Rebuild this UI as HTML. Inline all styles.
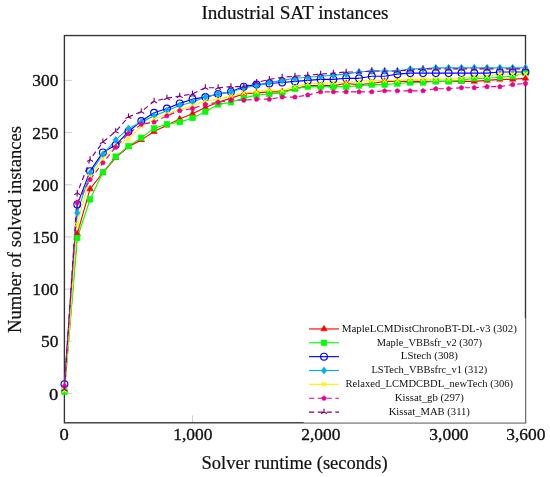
<!DOCTYPE html>
<html><head><meta charset="utf-8"><title>Industrial SAT instances</title>
<style>
html,body{margin:0;padding:0;background:#fff}
body{width:550px;height:477px;overflow:hidden}
svg{display:block}
text{font-family:"Liberation Serif",serif;fill:#111}
.t{font-size:17.9px;stroke:#111;stroke-width:0.2px}
.l{font-size:9.4px}
.k{font-size:17.5px;stroke:#111;stroke-width:0.35px}
</style></head><body>
<svg width="550" height="477" viewBox="0 0 550 477">
<rect width="550" height="477" fill="#fff"/>
<path d="M64.45 422.8V415.3M192.52 422.8V415.3M320.59 422.8V415.3M448.66 422.8V415.3M525.5 422.8V415.3M64.4 393.5H71.9M64.4 341.31H71.9M64.4 289.13H71.9M64.4 236.94H71.9M64.4 184.76H71.9M64.4 132.57H71.9M64.4 80.39H71.9" stroke="#bbb" stroke-width="0.7" fill="none"/>
<rect x="64.4" y="35.55" width="461.1" height="387.25" fill="none" stroke="#333" stroke-width="1.35"/>
<g fill="none" stroke-width="1.15" stroke-linejoin="round">
<polyline points="64.45,390.37 77.26,233.81 90.06,188.93 102.87,172.76 115.68,157.62 128.48,146.77 141.29,139.88 154.1,131.53 166.91,125.27 179.71,119.01 192.52,113.79 205.33,107.53 218.13,102.31 230.94,98.13 243.75,93.96 256.55,92.91 269.36,91.87 282.17,91.87 294.98,88.74 307.78,85.61 320.59,85.61 333.4,85.61 346.2,83.52 359.01,84.56 371.82,83.52 384.62,81.43 397.43,81.43 410.24,81.43 423.04,81.43 435.85,81.43 448.66,81.43 461.47,81.43 474.27,81.43 487.08,80.39 499.89,79.35 512.69,79.35 525.5,78.3" stroke="#ff0000"/>
<polyline points="64.45,391.93 77.26,237.99 90.06,199.37 102.87,172.24 115.68,156.58 128.48,146.14 141.29,137.79 154.1,128.4 166.91,124.23 179.71,122.14 192.52,117.96 205.33,111.7 218.13,104.4 230.94,102.31 243.75,98.13 256.55,95 269.36,93.96 282.17,92.91 294.98,88.74 307.78,86.65 320.59,86.65 333.4,86.65 346.2,86.65 359.01,85.61 371.82,84.56 384.62,84.56 397.43,83.52 410.24,82.48 423.04,82.48 435.85,81.43 448.66,81.43 461.47,80.39 474.27,78.3 487.08,78.3 499.89,77.26 512.69,76.22 525.5,73.08" stroke="#00ff00"/>
<polyline points="64.45,384.11 77.26,204.59 90.06,171.19 102.87,152.41 115.68,145.1 128.48,131.53 141.29,121.09 154.1,112.74 166.91,108.57 179.71,103.35 192.52,99.18 205.33,97.09 218.13,93.96 230.94,91.87 243.75,86.65 256.55,84.56 269.36,83.52 282.17,82.48 294.98,81.43 307.78,80.39 320.59,79.35 333.4,79.35 346.2,78.3 359.01,78.3 371.82,76.22 384.62,76.22 397.43,74.13 410.24,73.08 423.04,73.08 435.85,73.08 448.66,73.08 461.47,73.08 474.27,73.08 487.08,73.08 499.89,72.04 512.69,72.04 525.5,72.04" stroke="#0000ff"/>
<polyline points="64.45,388.28 77.26,212.94 90.06,173.28 102.87,154.49 115.68,139.88 128.48,128.4 141.29,122.14 154.1,115.88 166.91,110.66 179.71,105.44 192.52,102.31 205.33,97.09 218.13,93.96 230.94,91.87 243.75,87.7 256.55,85.61 269.36,82.48 282.17,80.39 294.98,78.3 307.78,77.26 320.59,76.22 333.4,75.17 346.2,74.13 359.01,72.04 371.82,71 384.62,71 397.43,71 410.24,68.91 423.04,68.91 435.85,67.87 448.66,67.87 461.47,67.87 474.27,67.87 487.08,67.87 499.89,67.87 512.69,67.87 525.5,67.87" stroke="#00aeef"/>
<polyline points="64.45,390.37 77.26,224.42 90.06,176.41 102.87,158.67 115.68,146.14 128.48,138.84 141.29,126.31 154.1,119.01 166.91,113.79 179.71,109.61 192.52,105.44 205.33,101.26 218.13,99.18 230.94,96.05 243.75,92.91 256.55,91.87 269.36,89.78 282.17,90.83 294.98,86.65 307.78,83.52 320.59,83.52 333.4,82.48 346.2,82.48 359.01,81.43 371.82,80.39 384.62,80.39 397.43,80.39 410.24,79.35 423.04,79.35 435.85,79.35 448.66,79.35 461.47,78.3 474.27,76.22 487.08,76.22 499.89,74.13 512.69,74.13 525.5,74.13" stroke="#fff200"/>
<polyline points="64.45,386.19 77.26,202.5 90.06,179.54 102.87,162.84 115.68,147.19 128.48,133.62 141.29,124.23 154.1,122.14 166.91,115.88 179.71,110.66 192.52,108.57 205.33,104.4 218.13,102.31 230.94,100.22 243.75,100.22 256.55,99.18 269.36,99.18 282.17,97.09 294.98,97.09 307.78,95 320.59,91.87 333.4,91.87 346.2,91.87 359.01,91.87 371.82,91.87 384.62,90.83 397.43,90.83 410.24,90.83 423.04,90.83 435.85,88.74 448.66,88.74 461.47,87.7 474.27,87.7 487.08,86.65 499.89,86.65 512.69,84.56 525.5,83.52" stroke="#ec008c" stroke-dasharray="5.27 3.51"/>
<polyline points="64.45,389.33 77.26,193.11 90.06,159.71 102.87,141.97 115.68,131.53 128.48,116.92 141.29,111.7 154.1,101.26 166.91,98.13 179.71,96.05 192.52,93.96 205.33,87.7 218.13,87.7 230.94,86.65 243.75,86.65 256.55,82.48 269.36,79.35 282.17,77.26 294.98,76.22 307.78,75.17 320.59,74.13 333.4,73.08 346.2,72.04 359.01,72.04 371.82,71 384.62,71 397.43,71 410.24,69.95 423.04,68.91 435.85,68.91 448.66,68.91 461.47,68.91 474.27,68.91 487.08,68.91 499.89,68.91 512.69,68.91 525.5,68.91" stroke="#800080" stroke-dasharray="5.27 3.51"/>
</g>
<g><polygon points="64.45,386.67 67.65,392.22 61.25,392.22" fill="#ff0000" stroke="#ff0000" stroke-width="0.6"/><polygon points="77.26,230.11 80.46,235.66 74.05,235.66" fill="#ff0000" stroke="#ff0000" stroke-width="0.6"/><polygon points="90.06,185.23 93.27,190.78 86.86,190.78" fill="#ff0000" stroke="#ff0000" stroke-width="0.6"/><polygon points="102.87,169.06 106.08,174.61 99.67,174.61" fill="#ff0000" stroke="#ff0000" stroke-width="0.6"/><polygon points="115.68,153.92 118.88,159.47 112.47,159.47" fill="#ff0000" stroke="#ff0000" stroke-width="0.6"/><polygon points="128.48,143.07 131.69,148.62 125.28,148.62" fill="#ff0000" stroke="#ff0000" stroke-width="0.6"/><polygon points="141.29,136.18 144.5,141.73 138.09,141.73" fill="#ff0000" stroke="#ff0000" stroke-width="0.6"/><polygon points="154.1,127.83 157.3,133.38 150.89,133.38" fill="#ff0000" stroke="#ff0000" stroke-width="0.6"/><polygon points="166.91,121.57 170.11,127.12 163.7,127.12" fill="#ff0000" stroke="#ff0000" stroke-width="0.6"/><polygon points="179.71,115.31 182.92,120.86 176.51,120.86" fill="#ff0000" stroke="#ff0000" stroke-width="0.6"/><polygon points="192.52,110.09 195.72,115.64 189.32,115.64" fill="#ff0000" stroke="#ff0000" stroke-width="0.6"/><polygon points="205.33,103.83 208.53,109.38 202.12,109.38" fill="#ff0000" stroke="#ff0000" stroke-width="0.6"/><polygon points="218.13,98.61 221.34,104.16 214.93,104.16" fill="#ff0000" stroke="#ff0000" stroke-width="0.6"/><polygon points="230.94,94.43 234.14,99.98 227.74,99.98" fill="#ff0000" stroke="#ff0000" stroke-width="0.6"/><polygon points="243.75,90.26 246.95,95.81 240.54,95.81" fill="#ff0000" stroke="#ff0000" stroke-width="0.6"/><polygon points="256.55,89.21 259.76,94.76 253.35,94.76" fill="#ff0000" stroke="#ff0000" stroke-width="0.6"/><polygon points="269.36,88.17 272.57,93.72 266.16,93.72" fill="#ff0000" stroke="#ff0000" stroke-width="0.6"/><polygon points="282.17,88.17 285.37,93.72 278.96,93.72" fill="#ff0000" stroke="#ff0000" stroke-width="0.6"/><polygon points="294.98,85.04 298.18,90.59 291.77,90.59" fill="#ff0000" stroke="#ff0000" stroke-width="0.6"/><polygon points="307.78,81.91 310.99,87.46 304.58,87.46" fill="#ff0000" stroke="#ff0000" stroke-width="0.6"/><polygon points="320.59,81.91 323.79,87.46 317.38,87.46" fill="#ff0000" stroke="#ff0000" stroke-width="0.6"/><polygon points="333.4,81.91 336.6,87.46 330.19,87.46" fill="#ff0000" stroke="#ff0000" stroke-width="0.6"/><polygon points="346.2,79.82 349.41,85.37 343,85.37" fill="#ff0000" stroke="#ff0000" stroke-width="0.6"/><polygon points="359.01,80.86 362.21,86.41 355.81,86.41" fill="#ff0000" stroke="#ff0000" stroke-width="0.6"/><polygon points="371.82,79.82 375.02,85.37 368.61,85.37" fill="#ff0000" stroke="#ff0000" stroke-width="0.6"/><polygon points="384.62,77.73 387.83,83.28 381.42,83.28" fill="#ff0000" stroke="#ff0000" stroke-width="0.6"/><polygon points="397.43,77.73 400.63,83.28 394.23,83.28" fill="#ff0000" stroke="#ff0000" stroke-width="0.6"/><polygon points="410.24,77.73 413.44,83.28 407.03,83.28" fill="#ff0000" stroke="#ff0000" stroke-width="0.6"/><polygon points="423.04,77.73 426.25,83.28 419.84,83.28" fill="#ff0000" stroke="#ff0000" stroke-width="0.6"/><polygon points="435.85,77.73 439.06,83.28 432.65,83.28" fill="#ff0000" stroke="#ff0000" stroke-width="0.6"/><polygon points="448.66,77.73 451.86,83.28 445.45,83.28" fill="#ff0000" stroke="#ff0000" stroke-width="0.6"/><polygon points="461.47,77.73 464.67,83.28 458.26,83.28" fill="#ff0000" stroke="#ff0000" stroke-width="0.6"/><polygon points="474.27,77.73 477.48,83.28 471.07,83.28" fill="#ff0000" stroke="#ff0000" stroke-width="0.6"/><polygon points="487.08,76.69 490.28,82.24 483.87,82.24" fill="#ff0000" stroke="#ff0000" stroke-width="0.6"/><polygon points="499.89,75.65 503.09,81.2 496.68,81.2" fill="#ff0000" stroke="#ff0000" stroke-width="0.6"/><polygon points="512.69,75.65 515.9,81.2 509.49,81.2" fill="#ff0000" stroke="#ff0000" stroke-width="0.6"/><polygon points="525.5,74.6 528.7,80.15 522.3,80.15" fill="#ff0000" stroke="#ff0000" stroke-width="0.6"/></g>
<g><rect x="61.7" y="389.18" width="5.5" height="5.5" fill="#00ff00" stroke="#00ff00" stroke-width="0.6"/><rect x="74.51" y="235.24" width="5.5" height="5.5" fill="#00ff00" stroke="#00ff00" stroke-width="0.6"/><rect x="87.31" y="196.62" width="5.5" height="5.5" fill="#00ff00" stroke="#00ff00" stroke-width="0.6"/><rect x="100.12" y="169.49" width="5.5" height="5.5" fill="#00ff00" stroke="#00ff00" stroke-width="0.6"/><rect x="112.93" y="153.83" width="5.5" height="5.5" fill="#00ff00" stroke="#00ff00" stroke-width="0.6"/><rect x="125.73" y="143.39" width="5.5" height="5.5" fill="#00ff00" stroke="#00ff00" stroke-width="0.6"/><rect x="138.54" y="135.04" width="5.5" height="5.5" fill="#00ff00" stroke="#00ff00" stroke-width="0.6"/><rect x="151.35" y="125.65" width="5.5" height="5.5" fill="#00ff00" stroke="#00ff00" stroke-width="0.6"/><rect x="164.16" y="121.48" width="5.5" height="5.5" fill="#00ff00" stroke="#00ff00" stroke-width="0.6"/><rect x="176.96" y="119.39" width="5.5" height="5.5" fill="#00ff00" stroke="#00ff00" stroke-width="0.6"/><rect x="189.77" y="115.21" width="5.5" height="5.5" fill="#00ff00" stroke="#00ff00" stroke-width="0.6"/><rect x="202.58" y="108.95" width="5.5" height="5.5" fill="#00ff00" stroke="#00ff00" stroke-width="0.6"/><rect x="215.38" y="101.65" width="5.5" height="5.5" fill="#00ff00" stroke="#00ff00" stroke-width="0.6"/><rect x="228.19" y="99.56" width="5.5" height="5.5" fill="#00ff00" stroke="#00ff00" stroke-width="0.6"/><rect x="241" y="95.38" width="5.5" height="5.5" fill="#00ff00" stroke="#00ff00" stroke-width="0.6"/><rect x="253.8" y="92.25" width="5.5" height="5.5" fill="#00ff00" stroke="#00ff00" stroke-width="0.6"/><rect x="266.61" y="91.21" width="5.5" height="5.5" fill="#00ff00" stroke="#00ff00" stroke-width="0.6"/><rect x="279.42" y="90.16" width="5.5" height="5.5" fill="#00ff00" stroke="#00ff00" stroke-width="0.6"/><rect x="292.23" y="85.99" width="5.5" height="5.5" fill="#00ff00" stroke="#00ff00" stroke-width="0.6"/><rect x="305.03" y="83.9" width="5.5" height="5.5" fill="#00ff00" stroke="#00ff00" stroke-width="0.6"/><rect x="317.84" y="83.9" width="5.5" height="5.5" fill="#00ff00" stroke="#00ff00" stroke-width="0.6"/><rect x="330.65" y="83.9" width="5.5" height="5.5" fill="#00ff00" stroke="#00ff00" stroke-width="0.6"/><rect x="343.45" y="83.9" width="5.5" height="5.5" fill="#00ff00" stroke="#00ff00" stroke-width="0.6"/><rect x="356.26" y="82.86" width="5.5" height="5.5" fill="#00ff00" stroke="#00ff00" stroke-width="0.6"/><rect x="369.07" y="81.81" width="5.5" height="5.5" fill="#00ff00" stroke="#00ff00" stroke-width="0.6"/><rect x="381.87" y="81.81" width="5.5" height="5.5" fill="#00ff00" stroke="#00ff00" stroke-width="0.6"/><rect x="394.68" y="80.77" width="5.5" height="5.5" fill="#00ff00" stroke="#00ff00" stroke-width="0.6"/><rect x="407.49" y="79.73" width="5.5" height="5.5" fill="#00ff00" stroke="#00ff00" stroke-width="0.6"/><rect x="420.29" y="79.73" width="5.5" height="5.5" fill="#00ff00" stroke="#00ff00" stroke-width="0.6"/><rect x="433.1" y="78.68" width="5.5" height="5.5" fill="#00ff00" stroke="#00ff00" stroke-width="0.6"/><rect x="445.91" y="78.68" width="5.5" height="5.5" fill="#00ff00" stroke="#00ff00" stroke-width="0.6"/><rect x="458.72" y="77.64" width="5.5" height="5.5" fill="#00ff00" stroke="#00ff00" stroke-width="0.6"/><rect x="471.52" y="75.55" width="5.5" height="5.5" fill="#00ff00" stroke="#00ff00" stroke-width="0.6"/><rect x="484.33" y="75.55" width="5.5" height="5.5" fill="#00ff00" stroke="#00ff00" stroke-width="0.6"/><rect x="497.14" y="74.51" width="5.5" height="5.5" fill="#00ff00" stroke="#00ff00" stroke-width="0.6"/><rect x="509.94" y="73.47" width="5.5" height="5.5" fill="#00ff00" stroke="#00ff00" stroke-width="0.6"/><rect x="522.75" y="70.33" width="5.5" height="5.5" fill="#00ff00" stroke="#00ff00" stroke-width="0.6"/></g>
<g><circle cx="64.45" cy="384.11" r="3.4" fill="none" stroke="#0000ff" stroke-width="1.15"/><circle cx="77.26" cy="204.59" r="3.4" fill="none" stroke="#0000ff" stroke-width="1.15"/><circle cx="90.06" cy="171.19" r="3.4" fill="none" stroke="#0000ff" stroke-width="1.15"/><circle cx="102.87" cy="152.41" r="3.4" fill="none" stroke="#0000ff" stroke-width="1.15"/><circle cx="115.68" cy="145.1" r="3.4" fill="none" stroke="#0000ff" stroke-width="1.15"/><circle cx="128.48" cy="131.53" r="3.4" fill="none" stroke="#0000ff" stroke-width="1.15"/><circle cx="141.29" cy="121.09" r="3.4" fill="none" stroke="#0000ff" stroke-width="1.15"/><circle cx="154.1" cy="112.74" r="3.4" fill="none" stroke="#0000ff" stroke-width="1.15"/><circle cx="166.91" cy="108.57" r="3.4" fill="none" stroke="#0000ff" stroke-width="1.15"/><circle cx="179.71" cy="103.35" r="3.4" fill="none" stroke="#0000ff" stroke-width="1.15"/><circle cx="192.52" cy="99.18" r="3.4" fill="none" stroke="#0000ff" stroke-width="1.15"/><circle cx="205.33" cy="97.09" r="3.4" fill="none" stroke="#0000ff" stroke-width="1.15"/><circle cx="218.13" cy="93.96" r="3.4" fill="none" stroke="#0000ff" stroke-width="1.15"/><circle cx="230.94" cy="91.87" r="3.4" fill="none" stroke="#0000ff" stroke-width="1.15"/><circle cx="243.75" cy="86.65" r="3.4" fill="none" stroke="#0000ff" stroke-width="1.15"/><circle cx="256.55" cy="84.56" r="3.4" fill="none" stroke="#0000ff" stroke-width="1.15"/><circle cx="269.36" cy="83.52" r="3.4" fill="none" stroke="#0000ff" stroke-width="1.15"/><circle cx="282.17" cy="82.48" r="3.4" fill="none" stroke="#0000ff" stroke-width="1.15"/><circle cx="294.98" cy="81.43" r="3.4" fill="none" stroke="#0000ff" stroke-width="1.15"/><circle cx="307.78" cy="80.39" r="3.4" fill="none" stroke="#0000ff" stroke-width="1.15"/><circle cx="320.59" cy="79.35" r="3.4" fill="none" stroke="#0000ff" stroke-width="1.15"/><circle cx="333.4" cy="79.35" r="3.4" fill="none" stroke="#0000ff" stroke-width="1.15"/><circle cx="346.2" cy="78.3" r="3.4" fill="none" stroke="#0000ff" stroke-width="1.15"/><circle cx="359.01" cy="78.3" r="3.4" fill="none" stroke="#0000ff" stroke-width="1.15"/><circle cx="371.82" cy="76.22" r="3.4" fill="none" stroke="#0000ff" stroke-width="1.15"/><circle cx="384.62" cy="76.22" r="3.4" fill="none" stroke="#0000ff" stroke-width="1.15"/><circle cx="397.43" cy="74.13" r="3.4" fill="none" stroke="#0000ff" stroke-width="1.15"/><circle cx="410.24" cy="73.08" r="3.4" fill="none" stroke="#0000ff" stroke-width="1.15"/><circle cx="423.04" cy="73.08" r="3.4" fill="none" stroke="#0000ff" stroke-width="1.15"/><circle cx="435.85" cy="73.08" r="3.4" fill="none" stroke="#0000ff" stroke-width="1.15"/><circle cx="448.66" cy="73.08" r="3.4" fill="none" stroke="#0000ff" stroke-width="1.15"/><circle cx="461.47" cy="73.08" r="3.4" fill="none" stroke="#0000ff" stroke-width="1.15"/><circle cx="474.27" cy="73.08" r="3.4" fill="none" stroke="#0000ff" stroke-width="1.15"/><circle cx="487.08" cy="73.08" r="3.4" fill="none" stroke="#0000ff" stroke-width="1.15"/><circle cx="499.89" cy="72.04" r="3.4" fill="none" stroke="#0000ff" stroke-width="1.15"/><circle cx="512.69" cy="72.04" r="3.4" fill="none" stroke="#0000ff" stroke-width="1.15"/><circle cx="525.5" cy="72.04" r="3.4" fill="none" stroke="#0000ff" stroke-width="1.15"/></g>
<g><polygon points="64.45,384.78 67.17,388.28 64.45,391.78 61.73,388.28" fill="#00aeef" stroke="#00aeef" stroke-width="0.6"/><polygon points="77.26,209.44 79.98,212.94 77.26,216.44 74.54,212.94" fill="#00aeef" stroke="#00aeef" stroke-width="0.6"/><polygon points="90.06,169.78 92.78,173.28 90.06,176.78 87.34,173.28" fill="#00aeef" stroke="#00aeef" stroke-width="0.6"/><polygon points="102.87,150.99 105.59,154.49 102.87,157.99 100.15,154.49" fill="#00aeef" stroke="#00aeef" stroke-width="0.6"/><polygon points="115.68,136.38 118.4,139.88 115.68,143.38 112.96,139.88" fill="#00aeef" stroke="#00aeef" stroke-width="0.6"/><polygon points="128.48,124.9 131.2,128.4 128.48,131.9 125.76,128.4" fill="#00aeef" stroke="#00aeef" stroke-width="0.6"/><polygon points="141.29,118.64 144.01,122.14 141.29,125.64 138.57,122.14" fill="#00aeef" stroke="#00aeef" stroke-width="0.6"/><polygon points="154.1,112.38 156.82,115.88 154.1,119.38 151.38,115.88" fill="#00aeef" stroke="#00aeef" stroke-width="0.6"/><polygon points="166.91,107.16 169.63,110.66 166.91,114.16 164.19,110.66" fill="#00aeef" stroke="#00aeef" stroke-width="0.6"/><polygon points="179.71,101.94 182.43,105.44 179.71,108.94 176.99,105.44" fill="#00aeef" stroke="#00aeef" stroke-width="0.6"/><polygon points="192.52,98.81 195.24,102.31 192.52,105.81 189.8,102.31" fill="#00aeef" stroke="#00aeef" stroke-width="0.6"/><polygon points="205.33,93.59 208.05,97.09 205.33,100.59 202.61,97.09" fill="#00aeef" stroke="#00aeef" stroke-width="0.6"/><polygon points="218.13,90.46 220.85,93.96 218.13,97.46 215.41,93.96" fill="#00aeef" stroke="#00aeef" stroke-width="0.6"/><polygon points="230.94,88.37 233.66,91.87 230.94,95.37 228.22,91.87" fill="#00aeef" stroke="#00aeef" stroke-width="0.6"/><polygon points="243.75,84.2 246.47,87.7 243.75,91.2 241.03,87.7" fill="#00aeef" stroke="#00aeef" stroke-width="0.6"/><polygon points="256.55,82.11 259.27,85.61 256.55,89.11 253.83,85.61" fill="#00aeef" stroke="#00aeef" stroke-width="0.6"/><polygon points="269.36,78.98 272.08,82.48 269.36,85.98 266.64,82.48" fill="#00aeef" stroke="#00aeef" stroke-width="0.6"/><polygon points="282.17,76.89 284.89,80.39 282.17,83.89 279.45,80.39" fill="#00aeef" stroke="#00aeef" stroke-width="0.6"/><polygon points="294.98,74.8 297.7,78.3 294.98,81.8 292.25,78.3" fill="#00aeef" stroke="#00aeef" stroke-width="0.6"/><polygon points="307.78,73.76 310.5,77.26 307.78,80.76 305.06,77.26" fill="#00aeef" stroke="#00aeef" stroke-width="0.6"/><polygon points="320.59,72.72 323.31,76.22 320.59,79.72 317.87,76.22" fill="#00aeef" stroke="#00aeef" stroke-width="0.6"/><polygon points="333.4,71.67 336.12,75.17 333.4,78.67 330.68,75.17" fill="#00aeef" stroke="#00aeef" stroke-width="0.6"/><polygon points="346.2,70.63 348.92,74.13 346.2,77.63 343.48,74.13" fill="#00aeef" stroke="#00aeef" stroke-width="0.6"/><polygon points="359.01,68.54 361.73,72.04 359.01,75.54 356.29,72.04" fill="#00aeef" stroke="#00aeef" stroke-width="0.6"/><polygon points="371.82,67.5 374.54,71 371.82,74.5 369.1,71" fill="#00aeef" stroke="#00aeef" stroke-width="0.6"/><polygon points="384.62,67.5 387.34,71 384.62,74.5 381.9,71" fill="#00aeef" stroke="#00aeef" stroke-width="0.6"/><polygon points="397.43,67.5 400.15,71 397.43,74.5 394.71,71" fill="#00aeef" stroke="#00aeef" stroke-width="0.6"/><polygon points="410.24,65.41 412.96,68.91 410.24,72.41 407.52,68.91" fill="#00aeef" stroke="#00aeef" stroke-width="0.6"/><polygon points="423.04,65.41 425.76,68.91 423.04,72.41 420.32,68.91" fill="#00aeef" stroke="#00aeef" stroke-width="0.6"/><polygon points="435.85,64.37 438.57,67.87 435.85,71.37 433.13,67.87" fill="#00aeef" stroke="#00aeef" stroke-width="0.6"/><polygon points="448.66,64.37 451.38,67.87 448.66,71.37 445.94,67.87" fill="#00aeef" stroke="#00aeef" stroke-width="0.6"/><polygon points="461.47,64.37 464.19,67.87 461.47,71.37 458.75,67.87" fill="#00aeef" stroke="#00aeef" stroke-width="0.6"/><polygon points="474.27,64.37 476.99,67.87 474.27,71.37 471.55,67.87" fill="#00aeef" stroke="#00aeef" stroke-width="0.6"/><polygon points="487.08,64.37 489.8,67.87 487.08,71.37 484.36,67.87" fill="#00aeef" stroke="#00aeef" stroke-width="0.6"/><polygon points="499.89,64.37 502.61,67.87 499.89,71.37 497.17,67.87" fill="#00aeef" stroke="#00aeef" stroke-width="0.6"/><polygon points="512.69,64.37 515.41,67.87 512.69,71.37 509.97,67.87" fill="#00aeef" stroke="#00aeef" stroke-width="0.6"/><polygon points="525.5,64.37 528.22,67.87 525.5,71.37 522.78,67.87" fill="#00aeef" stroke="#00aeef" stroke-width="0.6"/></g>
<g><path d="M62.35 388.27L66.55 392.47M62.35 392.47L66.55 388.27" fill="none" stroke="#fff200" stroke-width="1.15"/><path d="M75.16 222.32L79.36 226.52M75.16 226.52L79.36 222.32" fill="none" stroke="#fff200" stroke-width="1.15"/><path d="M87.96 174.31L92.16 178.51M87.96 178.51L92.16 174.31" fill="none" stroke="#fff200" stroke-width="1.15"/><path d="M100.77 156.57L104.97 160.77M100.77 160.77L104.97 156.57" fill="none" stroke="#fff200" stroke-width="1.15"/><path d="M113.58 144.04L117.78 148.24M113.58 148.24L117.78 144.04" fill="none" stroke="#fff200" stroke-width="1.15"/><path d="M126.38 136.74L130.58 140.94M126.38 140.94L130.58 136.74" fill="none" stroke="#fff200" stroke-width="1.15"/><path d="M139.19 124.21L143.39 128.41M139.19 128.41L143.39 124.21" fill="none" stroke="#fff200" stroke-width="1.15"/><path d="M152 116.91L156.2 121.11M152 121.11L156.2 116.91" fill="none" stroke="#fff200" stroke-width="1.15"/><path d="M164.81 111.69L169.01 115.89M164.81 115.89L169.01 111.69" fill="none" stroke="#fff200" stroke-width="1.15"/><path d="M177.61 107.51L181.81 111.71M177.61 111.71L181.81 107.51" fill="none" stroke="#fff200" stroke-width="1.15"/><path d="M190.42 103.34L194.62 107.54M190.42 107.54L194.62 103.34" fill="none" stroke="#fff200" stroke-width="1.15"/><path d="M203.23 99.16L207.43 103.36M203.23 103.36L207.43 99.16" fill="none" stroke="#fff200" stroke-width="1.15"/><path d="M216.03 97.08L220.23 101.28M216.03 101.28L220.23 97.08" fill="none" stroke="#fff200" stroke-width="1.15"/><path d="M228.84 93.95L233.04 98.15M228.84 98.15L233.04 93.95" fill="none" stroke="#fff200" stroke-width="1.15"/><path d="M241.65 90.81L245.85 95.01M241.65 95.01L245.85 90.81" fill="none" stroke="#fff200" stroke-width="1.15"/><path d="M254.45 89.77L258.65 93.97M254.45 93.97L258.65 89.77" fill="none" stroke="#fff200" stroke-width="1.15"/><path d="M267.26 87.68L271.46 91.88M267.26 91.88L271.46 87.68" fill="none" stroke="#fff200" stroke-width="1.15"/><path d="M280.07 88.73L284.27 92.93M280.07 92.93L284.27 88.73" fill="none" stroke="#fff200" stroke-width="1.15"/><path d="M292.88 84.55L297.08 88.75M292.88 88.75L297.08 84.55" fill="none" stroke="#fff200" stroke-width="1.15"/><path d="M305.68 81.42L309.88 85.62M305.68 85.62L309.88 81.42" fill="none" stroke="#fff200" stroke-width="1.15"/><path d="M318.49 81.42L322.69 85.62M318.49 85.62L322.69 81.42" fill="none" stroke="#fff200" stroke-width="1.15"/><path d="M331.3 80.38L335.5 84.58M331.3 84.58L335.5 80.38" fill="none" stroke="#fff200" stroke-width="1.15"/><path d="M344.1 80.38L348.3 84.58M344.1 84.58L348.3 80.38" fill="none" stroke="#fff200" stroke-width="1.15"/><path d="M356.91 79.33L361.11 83.53M356.91 83.53L361.11 79.33" fill="none" stroke="#fff200" stroke-width="1.15"/><path d="M369.72 78.29L373.92 82.49M369.72 82.49L373.92 78.29" fill="none" stroke="#fff200" stroke-width="1.15"/><path d="M382.52 78.29L386.72 82.49M382.52 82.49L386.72 78.29" fill="none" stroke="#fff200" stroke-width="1.15"/><path d="M395.33 78.29L399.53 82.49M395.33 82.49L399.53 78.29" fill="none" stroke="#fff200" stroke-width="1.15"/><path d="M408.14 77.25L412.34 81.45M408.14 81.45L412.34 77.25" fill="none" stroke="#fff200" stroke-width="1.15"/><path d="M420.94 77.25L425.14 81.45M420.94 81.45L425.14 77.25" fill="none" stroke="#fff200" stroke-width="1.15"/><path d="M433.75 77.25L437.95 81.45M433.75 81.45L437.95 77.25" fill="none" stroke="#fff200" stroke-width="1.15"/><path d="M446.56 77.25L450.76 81.45M446.56 81.45L450.76 77.25" fill="none" stroke="#fff200" stroke-width="1.15"/><path d="M459.37 76.2L463.57 80.4M459.37 80.4L463.57 76.2" fill="none" stroke="#fff200" stroke-width="1.15"/><path d="M472.17 74.12L476.37 78.32M472.17 78.32L476.37 74.12" fill="none" stroke="#fff200" stroke-width="1.15"/><path d="M484.98 74.12L489.18 78.32M484.98 78.32L489.18 74.12" fill="none" stroke="#fff200" stroke-width="1.15"/><path d="M497.79 72.03L501.99 76.23M497.79 76.23L501.99 72.03" fill="none" stroke="#fff200" stroke-width="1.15"/><path d="M510.59 72.03L514.79 76.23M510.59 76.23L514.79 72.03" fill="none" stroke="#fff200" stroke-width="1.15"/><path d="M523.4 72.03L527.6 76.23M523.4 76.23L527.6 72.03" fill="none" stroke="#fff200" stroke-width="1.15"/></g>
<g><polygon points="64.45,383.74 66.78,385.44 65.89,388.18 63.01,388.18 62.12,385.44" fill="#ec008c" stroke="#ec008c" stroke-width="0.6"/><polygon points="77.26,200.05 79.59,201.75 78.7,204.48 75.82,204.48 74.93,201.75" fill="#ec008c" stroke="#ec008c" stroke-width="0.6"/><polygon points="90.06,177.09 92.39,178.78 91.5,181.52 88.62,181.52 87.73,178.78" fill="#ec008c" stroke="#ec008c" stroke-width="0.6"/><polygon points="102.87,160.39 105.2,162.09 104.31,164.82 101.43,164.82 100.54,162.09" fill="#ec008c" stroke="#ec008c" stroke-width="0.6"/><polygon points="115.68,144.74 118.01,146.43 117.12,149.17 114.24,149.17 113.35,146.43" fill="#ec008c" stroke="#ec008c" stroke-width="0.6"/><polygon points="128.48,131.17 130.81,132.86 129.92,135.6 127.04,135.6 126.15,132.86" fill="#ec008c" stroke="#ec008c" stroke-width="0.6"/><polygon points="141.29,121.78 143.62,123.47 142.73,126.21 139.85,126.21 138.96,123.47" fill="#ec008c" stroke="#ec008c" stroke-width="0.6"/><polygon points="154.1,119.69 156.43,121.38 155.54,124.12 152.66,124.12 151.77,121.38" fill="#ec008c" stroke="#ec008c" stroke-width="0.6"/><polygon points="166.91,113.43 169.24,115.12 168.35,117.86 165.47,117.86 164.58,115.12" fill="#ec008c" stroke="#ec008c" stroke-width="0.6"/><polygon points="179.71,108.21 182.04,109.9 181.15,112.64 178.27,112.64 177.38,109.9" fill="#ec008c" stroke="#ec008c" stroke-width="0.6"/><polygon points="192.52,106.12 194.85,107.81 193.96,110.55 191.08,110.55 190.19,107.81" fill="#ec008c" stroke="#ec008c" stroke-width="0.6"/><polygon points="205.33,101.95 207.66,103.64 206.77,106.38 203.89,106.38 203,103.64" fill="#ec008c" stroke="#ec008c" stroke-width="0.6"/><polygon points="218.13,99.86 220.46,101.55 219.57,104.29 216.69,104.29 215.8,101.55" fill="#ec008c" stroke="#ec008c" stroke-width="0.6"/><polygon points="230.94,97.77 233.27,99.46 232.38,102.2 229.5,102.2 228.61,99.46" fill="#ec008c" stroke="#ec008c" stroke-width="0.6"/><polygon points="243.75,97.77 246.08,99.46 245.19,102.2 242.31,102.2 241.42,99.46" fill="#ec008c" stroke="#ec008c" stroke-width="0.6"/><polygon points="256.55,96.73 258.88,98.42 257.99,101.16 255.11,101.16 254.22,98.42" fill="#ec008c" stroke="#ec008c" stroke-width="0.6"/><polygon points="269.36,96.73 271.69,98.42 270.8,101.16 267.92,101.16 267.03,98.42" fill="#ec008c" stroke="#ec008c" stroke-width="0.6"/><polygon points="282.17,94.64 284.5,96.33 283.61,99.07 280.73,99.07 279.84,96.33" fill="#ec008c" stroke="#ec008c" stroke-width="0.6"/><polygon points="294.98,94.64 297.31,96.33 296.42,99.07 293.53,99.07 292.64,96.33" fill="#ec008c" stroke="#ec008c" stroke-width="0.6"/><polygon points="307.78,92.55 310.11,94.24 309.22,96.98 306.34,96.98 305.45,94.24" fill="#ec008c" stroke="#ec008c" stroke-width="0.6"/><polygon points="320.59,89.42 322.92,91.11 322.03,93.85 319.15,93.85 318.26,91.11" fill="#ec008c" stroke="#ec008c" stroke-width="0.6"/><polygon points="333.4,89.42 335.73,91.11 334.84,93.85 331.96,93.85 331.07,91.11" fill="#ec008c" stroke="#ec008c" stroke-width="0.6"/><polygon points="346.2,89.42 348.53,91.11 347.64,93.85 344.76,93.85 343.87,91.11" fill="#ec008c" stroke="#ec008c" stroke-width="0.6"/><polygon points="359.01,89.42 361.34,91.11 360.45,93.85 357.57,93.85 356.68,91.11" fill="#ec008c" stroke="#ec008c" stroke-width="0.6"/><polygon points="371.82,89.42 374.15,91.11 373.26,93.85 370.38,93.85 369.49,91.11" fill="#ec008c" stroke="#ec008c" stroke-width="0.6"/><polygon points="384.62,88.38 386.95,90.07 386.06,92.81 383.18,92.81 382.29,90.07" fill="#ec008c" stroke="#ec008c" stroke-width="0.6"/><polygon points="397.43,88.38 399.76,90.07 398.87,92.81 395.99,92.81 395.1,90.07" fill="#ec008c" stroke="#ec008c" stroke-width="0.6"/><polygon points="410.24,88.38 412.57,90.07 411.68,92.81 408.8,92.81 407.91,90.07" fill="#ec008c" stroke="#ec008c" stroke-width="0.6"/><polygon points="423.04,88.38 425.37,90.07 424.48,92.81 421.6,92.81 420.71,90.07" fill="#ec008c" stroke="#ec008c" stroke-width="0.6"/><polygon points="435.85,86.29 438.18,87.98 437.29,90.72 434.41,90.72 433.52,87.98" fill="#ec008c" stroke="#ec008c" stroke-width="0.6"/><polygon points="448.66,86.29 450.99,87.98 450.1,90.72 447.22,90.72 446.33,87.98" fill="#ec008c" stroke="#ec008c" stroke-width="0.6"/><polygon points="461.47,85.25 463.8,86.94 462.91,89.68 460.03,89.68 459.14,86.94" fill="#ec008c" stroke="#ec008c" stroke-width="0.6"/><polygon points="474.27,85.25 476.6,86.94 475.71,89.68 472.83,89.68 471.94,86.94" fill="#ec008c" stroke="#ec008c" stroke-width="0.6"/><polygon points="487.08,84.2 489.41,85.9 488.52,88.63 485.64,88.63 484.75,85.9" fill="#ec008c" stroke="#ec008c" stroke-width="0.6"/><polygon points="499.89,84.2 502.22,85.9 501.33,88.63 498.45,88.63 497.56,85.9" fill="#ec008c" stroke="#ec008c" stroke-width="0.6"/><polygon points="512.69,82.11 515.02,83.81 514.13,86.55 511.25,86.55 510.36,83.81" fill="#ec008c" stroke="#ec008c" stroke-width="0.6"/><polygon points="525.5,81.07 527.83,82.76 526.94,85.5 524.06,85.5 523.17,82.76" fill="#ec008c" stroke="#ec008c" stroke-width="0.6"/></g>
<g><path d="M64.45 389.33L64.45 385.93M64.45 389.33L61.51 391.03M64.45 389.33L67.39 391.03" fill="none" stroke="#800080" stroke-width="1.15"/><path d="M77.26 193.11L77.26 189.71M77.26 193.11L74.31 194.81M77.26 193.11L80.2 194.81" fill="none" stroke="#800080" stroke-width="1.15"/><path d="M90.06 159.71L90.06 156.31M90.06 159.71L87.12 161.41M90.06 159.71L93.01 161.41" fill="none" stroke="#800080" stroke-width="1.15"/><path d="M102.87 141.97L102.87 138.57M102.87 141.97L99.93 143.67M102.87 141.97L105.82 143.67" fill="none" stroke="#800080" stroke-width="1.15"/><path d="M115.68 131.53L115.68 128.13M115.68 131.53L112.73 133.23M115.68 131.53L118.62 133.23" fill="none" stroke="#800080" stroke-width="1.15"/><path d="M128.48 116.92L128.48 113.52M128.48 116.92L125.54 118.62M128.48 116.92L131.43 118.62" fill="none" stroke="#800080" stroke-width="1.15"/><path d="M141.29 111.7L141.29 108.3M141.29 111.7L138.35 113.4M141.29 111.7L144.24 113.4" fill="none" stroke="#800080" stroke-width="1.15"/><path d="M154.1 101.26L154.1 97.86M154.1 101.26L151.15 102.96M154.1 101.26L157.04 102.96" fill="none" stroke="#800080" stroke-width="1.15"/><path d="M166.91 98.13L166.91 94.73M166.91 98.13L163.96 99.83M166.91 98.13L169.85 99.83" fill="none" stroke="#800080" stroke-width="1.15"/><path d="M179.71 96.05L179.71 92.65M179.71 96.05L176.77 97.75M179.71 96.05L182.66 97.75" fill="none" stroke="#800080" stroke-width="1.15"/><path d="M192.52 93.96L192.52 90.56M192.52 93.96L189.57 95.66M192.52 93.96L195.46 95.66" fill="none" stroke="#800080" stroke-width="1.15"/><path d="M205.33 87.7L205.33 84.3M205.33 87.7L202.38 89.4M205.33 87.7L208.27 89.4" fill="none" stroke="#800080" stroke-width="1.15"/><path d="M218.13 87.7L218.13 84.3M218.13 87.7L215.19 89.4M218.13 87.7L221.08 89.4" fill="none" stroke="#800080" stroke-width="1.15"/><path d="M230.94 86.65L230.94 83.25M230.94 86.65L228 88.35M230.94 86.65L233.88 88.35" fill="none" stroke="#800080" stroke-width="1.15"/><path d="M243.75 86.65L243.75 83.25M243.75 86.65L240.8 88.35M243.75 86.65L246.69 88.35" fill="none" stroke="#800080" stroke-width="1.15"/><path d="M256.55 82.48L256.55 79.08M256.55 82.48L253.61 84.18M256.55 82.48L259.5 84.18" fill="none" stroke="#800080" stroke-width="1.15"/><path d="M269.36 79.35L269.36 75.95M269.36 79.35L266.42 81.05M269.36 79.35L272.31 81.05" fill="none" stroke="#800080" stroke-width="1.15"/><path d="M282.17 77.26L282.17 73.86M282.17 77.26L279.22 78.96M282.17 77.26L285.11 78.96" fill="none" stroke="#800080" stroke-width="1.15"/><path d="M294.98 76.22L294.98 72.82M294.98 76.22L292.03 77.92M294.98 76.22L297.92 77.92" fill="none" stroke="#800080" stroke-width="1.15"/><path d="M307.78 75.17L307.78 71.77M307.78 75.17L304.84 76.87M307.78 75.17L310.73 76.87" fill="none" stroke="#800080" stroke-width="1.15"/><path d="M320.59 74.13L320.59 70.73M320.59 74.13L317.64 75.83M320.59 74.13L323.53 75.83" fill="none" stroke="#800080" stroke-width="1.15"/><path d="M333.4 73.08L333.4 69.68M333.4 73.08L330.45 74.78M333.4 73.08L336.34 74.78" fill="none" stroke="#800080" stroke-width="1.15"/><path d="M346.2 72.04L346.2 68.64M346.2 72.04L343.26 73.74M346.2 72.04L349.15 73.74" fill="none" stroke="#800080" stroke-width="1.15"/><path d="M359.01 72.04L359.01 68.64M359.01 72.04L356.07 73.74M359.01 72.04L361.95 73.74" fill="none" stroke="#800080" stroke-width="1.15"/><path d="M371.82 71L371.82 67.6M371.82 71L368.87 72.7M371.82 71L374.76 72.7" fill="none" stroke="#800080" stroke-width="1.15"/><path d="M384.62 71L384.62 67.6M384.62 71L381.68 72.7M384.62 71L387.57 72.7" fill="none" stroke="#800080" stroke-width="1.15"/><path d="M397.43 71L397.43 67.6M397.43 71L394.49 72.7M397.43 71L400.38 72.7" fill="none" stroke="#800080" stroke-width="1.15"/><path d="M410.24 69.95L410.24 66.55M410.24 69.95L407.29 71.65M410.24 69.95L413.18 71.65" fill="none" stroke="#800080" stroke-width="1.15"/><path d="M423.04 68.91L423.04 65.51M423.04 68.91L420.1 70.61M423.04 68.91L425.99 70.61" fill="none" stroke="#800080" stroke-width="1.15"/><path d="M435.85 68.91L435.85 65.51M435.85 68.91L432.91 70.61M435.85 68.91L438.8 70.61" fill="none" stroke="#800080" stroke-width="1.15"/><path d="M448.66 68.91L448.66 65.51M448.66 68.91L445.71 70.61M448.66 68.91L451.6 70.61" fill="none" stroke="#800080" stroke-width="1.15"/><path d="M461.47 68.91L461.47 65.51M461.47 68.91L458.52 70.61M461.47 68.91L464.41 70.61" fill="none" stroke="#800080" stroke-width="1.15"/><path d="M474.27 68.91L474.27 65.51M474.27 68.91L471.33 70.61M474.27 68.91L477.22 70.61" fill="none" stroke="#800080" stroke-width="1.15"/><path d="M487.08 68.91L487.08 65.51M487.08 68.91L484.13 70.61M487.08 68.91L490.02 70.61" fill="none" stroke="#800080" stroke-width="1.15"/><path d="M499.89 68.91L499.89 65.51M499.89 68.91L496.94 70.61M499.89 68.91L502.83 70.61" fill="none" stroke="#800080" stroke-width="1.15"/><path d="M512.69 68.91L512.69 65.51M512.69 68.91L509.75 70.61M512.69 68.91L515.64 70.61" fill="none" stroke="#800080" stroke-width="1.15"/><path d="M525.5 68.91L525.5 65.51M525.5 68.91L522.56 70.61M525.5 68.91L528.44 70.61" fill="none" stroke="#800080" stroke-width="1.15"/></g>
<rect x="303.6" y="318.1" width="221.7" height="104.5" fill="#fff"/>
<path d="M309 328.95H339" stroke="#ff0000" stroke-width="1.15" fill="none"/>
<polygon points="324,325.25 327.2,330.8 320.8,330.8" fill="#ff0000" stroke="#ff0000" stroke-width="0.6"/>
<text class="l" x="429.3" y="331.75" text-anchor="middle" textLength="175.1" lengthAdjust="spacingAndGlyphs">MapleLCMDistChronoBT-DL-v3 (302)</text>
<path d="M309 342.8H339" stroke="#00ff00" stroke-width="1.15" fill="none"/>
<rect x="321.25" y="340.05" width="5.5" height="5.5" fill="#00ff00" stroke="#00ff00" stroke-width="0.6"/>
<text class="l" x="429.3" y="345.6" text-anchor="middle" textLength="105.3" lengthAdjust="spacingAndGlyphs">Maple_VBBsfr_v2 (307)</text>
<path d="M309 356.65H339" stroke="#0000ff" stroke-width="1.15" fill="none"/>
<circle cx="324" cy="356.65" r="3.4" fill="none" stroke="#0000ff" stroke-width="1.15"/>
<text class="l" x="429.3" y="359.45" text-anchor="middle" textLength="57" lengthAdjust="spacingAndGlyphs">LStech (308)</text>
<path d="M309 370.5H339" stroke="#00aeef" stroke-width="1.15" fill="none"/>
<polygon points="324,367 326.72,370.5 324,374 321.28,370.5" fill="#00aeef" stroke="#00aeef" stroke-width="0.6"/>
<text class="l" x="429.3" y="373.3" text-anchor="middle" textLength="115.7" lengthAdjust="spacingAndGlyphs">LSTech_VBBsfrc_v1 (312)</text>
<path d="M309 384.35H339" stroke="#fff200" stroke-width="1.15" fill="none"/>
<path d="M321.9 382.25L326.1 386.45M321.9 386.45L326.1 382.25" fill="none" stroke="#fff200" stroke-width="1.15"/>
<text class="l" x="429.3" y="387.15" text-anchor="middle" textLength="167.5" lengthAdjust="spacingAndGlyphs">Relaxed_LCMDCBDL_newTech (306)</text>
<path d="M309 398.2H339" stroke="#ec008c" stroke-width="1.15" fill="none" stroke-dasharray="5.27 3.51"/>
<polygon points="324,395.75 326.33,397.44 325.44,400.18 322.56,400.18 321.67,397.44" fill="#ec008c" stroke="#ec008c" stroke-width="0.6"/>
<text class="l" x="429.3" y="401" text-anchor="middle" textLength="69.1" lengthAdjust="spacingAndGlyphs">Kissat_gb (297)</text>
<path d="M309 412.05H339" stroke="#800080" stroke-width="1.15" fill="none" stroke-dasharray="5.27 3.51"/>
<path d="M324 412.05L324 408.65M324 412.05L321.06 413.75M324 412.05L326.94 413.75" fill="none" stroke="#800080" stroke-width="1.15"/>
<text class="l" x="429.3" y="414.85" text-anchor="middle" textLength="81.2" lengthAdjust="spacingAndGlyphs">Kissat_MAB (311)</text>
<text class="k" x="64.15" y="439.9" text-anchor="middle" textLength="9.3" lengthAdjust="spacingAndGlyphs">0</text>
<text class="k" x="192.82" y="439.9" text-anchor="middle" textLength="39.2" lengthAdjust="spacingAndGlyphs">1,000</text>
<text class="k" x="320.89" y="439.9" text-anchor="middle" textLength="39.2" lengthAdjust="spacingAndGlyphs">2,000</text>
<text class="k" x="448.96" y="439.9" text-anchor="middle" textLength="39.2" lengthAdjust="spacingAndGlyphs">3,000</text>
<text class="k" x="525.8" y="439.9" text-anchor="middle" textLength="39.2" lengthAdjust="spacingAndGlyphs">3,600</text>
<text class="k" x="58.4" y="399.5" text-anchor="end" textLength="9.3" lengthAdjust="spacingAndGlyphs">0</text>
<text class="k" x="58.4" y="347.31" text-anchor="end" textLength="17.4" lengthAdjust="spacingAndGlyphs">50</text>
<text class="k" x="58.4" y="295.13" text-anchor="end" textLength="26.1" lengthAdjust="spacingAndGlyphs">100</text>
<text class="k" x="58.4" y="242.94" text-anchor="end" textLength="26.1" lengthAdjust="spacingAndGlyphs">150</text>
<text class="k" x="58.4" y="190.76" text-anchor="end" textLength="26.1" lengthAdjust="spacingAndGlyphs">200</text>
<text class="k" x="58.4" y="138.57" text-anchor="end" textLength="26.1" lengthAdjust="spacingAndGlyphs">250</text>
<text class="k" x="58.4" y="86.39" text-anchor="end" textLength="26.1" lengthAdjust="spacingAndGlyphs">300</text>
<text class="t" x="295" y="19.1" text-anchor="middle" textLength="187.2" lengthAdjust="spacingAndGlyphs">Industrial SAT instances</text>
<text class="t" x="294.6" y="468.6" text-anchor="middle" textLength="186.2" lengthAdjust="spacingAndGlyphs">Solver runtime (seconds)</text>
<text class="t" transform="translate(20.7 229.5) rotate(-90)" text-anchor="middle" textLength="207" lengthAdjust="spacingAndGlyphs">Number of solved instances</text>
</svg></body></html>
